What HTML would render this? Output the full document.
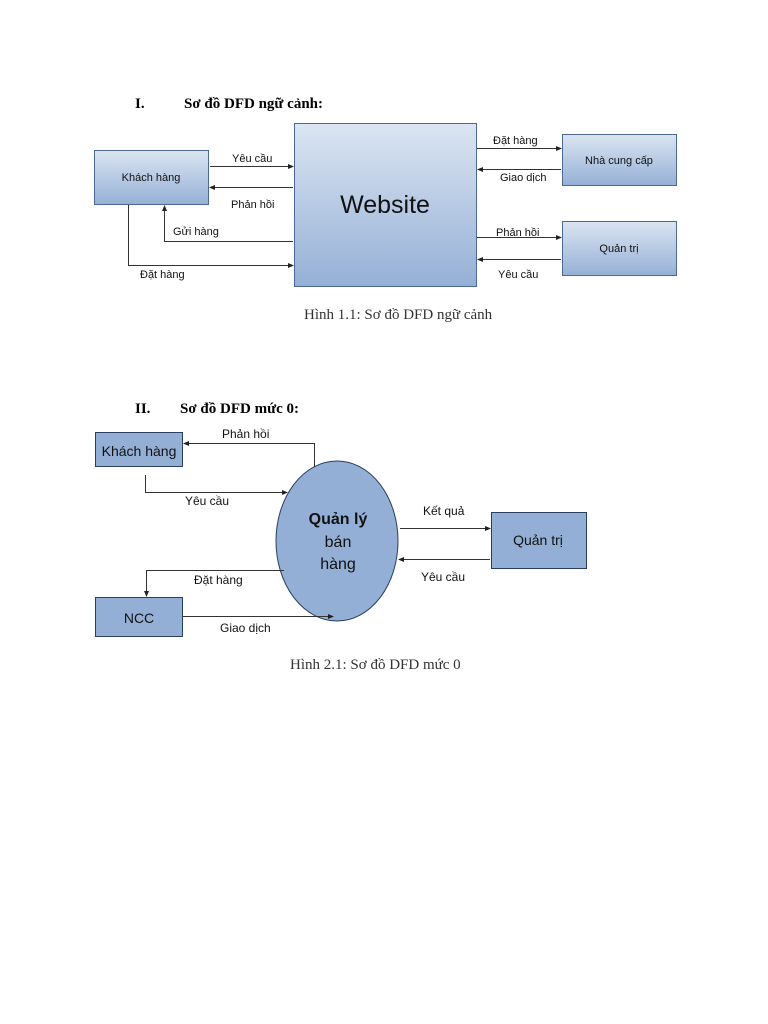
<!DOCTYPE html>
<html><head><meta charset="utf-8">
<style>html,body{margin:0;padding:0;background:#fff;}svg{display:block;}</style>
</head><body>
<svg width="768" height="1024" viewBox="0 0 768 1024" xmlns="http://www.w3.org/2000/svg">
<defs>
<linearGradient id="g" x1="0" y1="0" x2="0" y2="1">
<stop offset="0" stop-color="#dbe5f2"/><stop offset="1" stop-color="#95b0d6"/>
</linearGradient>
<marker id="a" markerWidth="6" markerHeight="6" refX="5" refY="3" orient="auto" markerUnits="userSpaceOnUse">
<path d="M0,0.5 L6,3 L0,5.5 z" fill="#222"/>
</marker>
</defs>
<g font-family="Liberation Serif, serif" font-weight="bold" font-size="15" fill="#000">
<text x="135" y="108">I.</text><text x="184" y="108">Sơ đồ DFD ngữ cảnh:</text>
<text x="135" y="413">II.</text><text x="180" y="413">Sơ đồ DFD mức 0:</text>
</g>
<g font-family="Liberation Serif, serif" font-size="15" fill="#333">
<text x="304" y="319">Hình 1.1: Sơ đồ DFD ngữ cảnh</text>
<text x="290" y="669">Hình 2.1: Sơ đồ DFD mức 0</text>
</g>
<g stroke="#4a6a95" stroke-width="1" fill="url(#g)">
<rect x="94.5" y="150.5" width="114" height="54"/>
<rect x="294.5" y="123.5" width="182" height="163"/>
<rect x="562.5" y="134.5" width="114" height="51"/>
<rect x="562.5" y="221.5" width="114" height="54"/>
</g>
<g font-family="Liberation Sans, sans-serif" fill="#111" text-anchor="middle">
<text x="151" y="181" font-size="11">Khách hàng</text>
<text x="385" y="213" font-size="25">Website</text>
<text x="619" y="164" font-size="11">Nhà cung cấp</text>
<text x="619" y="252" font-size="11">Quản trị</text>
</g>
<g stroke="#333" stroke-width="1" fill="none" marker-end="url(#a)">
<path d="M210,166.5 H293"/>
<path d="M293,187.5 H210"/>
<path d="M293,241.5 H164.5 V206"/>
<path d="M128.5,205 V265.5 H293"/>
<path d="M477,148.5 H561"/>
<path d="M561,169.5 H478"/>
<path d="M477,237.5 H561"/>
<path d="M561,259.5 H478"/>
</g>
<g font-family="Liberation Sans, sans-serif" font-size="11" fill="#111">
<text x="232" y="162">Yêu cầu</text>
<text x="231" y="208">Phản hồi</text>
<text x="173" y="235">Gửi hàng</text>
<text x="140" y="278">Đặt hàng</text>
<text x="493" y="144">Đặt hàng</text>
<text x="500" y="181">Giao dịch</text>
<text x="496" y="236">Phản hồi</text>
<text x="498" y="278">Yêu cầu</text>
</g>
<g stroke="#2a3f5f" stroke-width="1" fill="#94afd6">
<rect x="95.5" y="432.5" width="87" height="34"/>
<rect x="95.5" y="597.5" width="87" height="39"/>
<rect x="491.5" y="512.5" width="95" height="56"/>
<ellipse cx="337" cy="541" rx="61" ry="80"/>
</g>
<g font-family="Liberation Sans, sans-serif" fill="#111" text-anchor="middle">
<text x="139" y="456" font-size="14">Khách hàng</text>
<text x="139" y="623" font-size="14">NCC</text>
<text x="538" y="545" font-size="14">Quản trị</text>
<text x="338" y="524" font-size="16" font-weight="bold">Quản lý</text>
<text x="338" y="547" font-size="16">bán</text>
<text x="338" y="569" font-size="16">hàng</text>
</g>
<g stroke="#333" stroke-width="1" fill="none" marker-end="url(#a)">
<path d="M314.5,467 V443.5 H184"/>
<path d="M145.5,475 V492.5 H287"/>
<path d="M400,528.5 H490"/>
<path d="M490,559.5 H399"/>
<path d="M284,570.5 H146.5 V596"/>
<path d="M183,616.5 H333"/>
</g>
<g font-family="Liberation Sans, sans-serif" font-size="12" fill="#111">
<text x="222" y="438">Phản hồi</text>
<text x="185" y="505">Yêu cầu</text>
<text x="423" y="515">Kết quả</text>
<text x="421" y="581">Yêu cầu</text>
<text x="194" y="584">Đặt hàng</text>
<text x="220" y="632">Giao dịch</text>
</g>
</svg>
</body></html>
